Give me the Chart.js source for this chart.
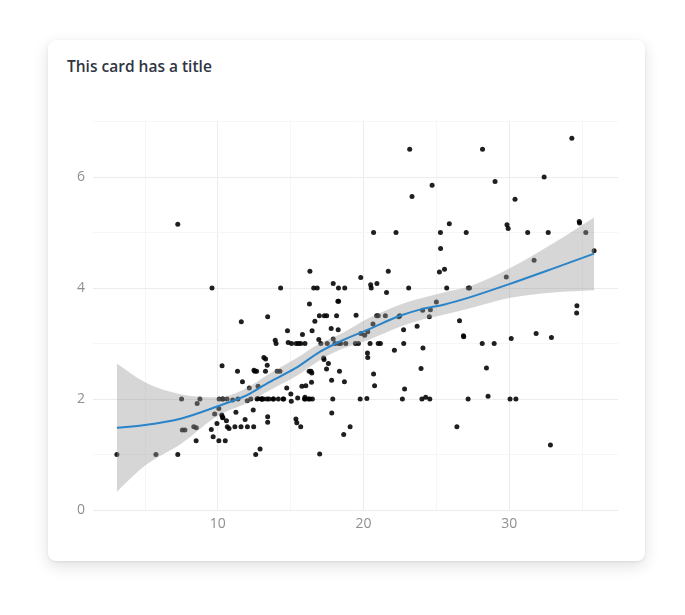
<!DOCTYPE html>
<html>
<head>
<meta charset="utf-8">
<script src="https://cdn.jsdelivr.net/npm/chart.js@4.4.1/dist/chart.umd.min.js"></script>
<style>
  html, body { margin: 0; padding: 0; background: #ffffff; }
  body { width: 685px; height: 615px; position: relative; font-family: "Open Sans", "Noto Sans", sans-serif; }
  .card {
    position: absolute; left: 48px; top: 40px; width: 597px; height: 521px;
    background: #fff; border-radius: 8px;
    box-shadow: 0 5px 16px rgba(0, 0, 0, 0.12), 0 1px 3px rgba(0, 0, 0, 0.07);
  }
  .card-title {
    position: absolute; left: 19px; top: 15px;
    font-size: 15.5px; font-weight: 600; color: #2f3542;
  }
  .chart-box { position: absolute; left: 12px; top: 64px; width: 562px; height: 441px; }
</style>
</head>
<body>
<div class="card">
  <div class="card-title">This card has a title</div>
  <div class="chart-box"><canvas id="chart"></canvas></div>
</div>
<script>
// total bill vs tip
const billX = [16.99, 10.34, 21.01, 23.68, 24.59, 25.29, 8.77, 26.88, 15.04, 14.78, 10.27, 35.26, 15.42, 18.43, 14.83, 21.58, 10.33, 16.29, 16.97, 20.65,
  17.92, 20.29, 15.77, 19.82, 17.81, 13.37, 12.69, 21.7, 19.65, 9.55, 18.35, 15.06, 20.69, 17.78, 24.06, 16.31, 16.93, 18.69, 31.27, 16.04,
  17.46, 13.94, 9.68, 30.4, 18.29, 22.23, 32.4, 28.55, 18.04, 12.54, 10.29, 34.81, 9.94, 25.56, 19.49, 26.41, 11.24, 20.29, 13.81, 11.02,
  18.29, 17.59, 20.08, 16.45, 3.07, 20.23, 15.01, 12.02, 17.07, 26.86, 25.28, 14.73, 10.51, 17.92, 27.2, 22.76, 17.29, 19.44, 16.66, 10.07,
  32.68, 15.98, 34.83, 13.03, 18.28, 24.71, 21.16, 28.97, 22.49, 5.75, 16.32, 22.75, 27.28, 12.03, 21.01, 12.46, 11.35, 15.38, 22.42, 20.92,
  15.36, 20.49, 25.21, 18.24, 14.31, 14.0, 7.25, 23.95, 25.71, 17.31, 29.93, 10.65, 12.43, 24.08, 11.69, 13.42, 14.26, 15.95, 12.48, 29.8,
  8.52, 14.52, 11.38, 22.82, 19.08, 20.27, 11.17, 12.26, 18.26, 8.51, 10.33, 14.15, 16.0, 13.16, 17.47, 34.3, 27.05, 16.43, 8.35, 18.64,
  11.87, 9.78, 7.51, 14.07, 13.13, 17.26, 24.55, 19.77, 29.85, 25.0, 13.39, 16.49, 21.5, 12.66, 16.21, 13.81, 17.51, 24.52, 20.76, 31.71,
  10.59, 10.63, 15.81, 7.25, 31.85, 16.82, 32.9, 17.89, 14.48, 9.6, 34.63, 34.65, 23.33, 23.17, 20.69, 20.9, 30.46, 18.15, 23.1, 15.69,
  19.81, 28.44, 15.48, 16.58, 7.56, 10.34, 13.0, 13.51, 18.71, 12.74, 13.0, 16.4, 20.53, 16.47, 26.59, 24.27, 12.76, 30.06, 25.89, 13.27,
  28.17, 12.9, 28.15, 11.59, 7.74, 30.14, 12.16, 13.42, 8.58, 15.98, 13.42, 16.27, 10.09, 20.45, 13.28, 22.12, 24.01, 15.69, 11.61, 10.77,
  15.53, 10.07, 12.6, 32.83, 35.83, 29.03, 27.18, 22.67, 17.82, 18.78];
const tipY = [1.01, 1.66, 3.5, 3.31, 3.61, 4.71, 2.0, 3.12, 1.96, 3.23, 1.71, 5.0, 1.57, 3.0, 3.02, 3.92, 1.67, 3.71, 3.5, 3.35,
  4.08, 2.75, 2.23, 3.18, 2.34, 2.0, 2.0, 4.3, 3.0, 1.45, 2.5, 3.0, 2.45, 3.27, 3.6, 2.0, 3.07, 2.31, 5.0, 2.24,
  2.54, 3.06, 1.32, 5.6, 3.0, 5.0, 6.0, 2.05, 3.0, 2.5, 2.6, 5.2, 1.56, 4.34, 3.51, 1.5, 1.76, 3.21, 2.0, 1.98,
  3.76, 2.64, 3.15, 2.47, 1.0, 2.01, 2.09, 1.97, 3.0, 3.14, 5.0, 2.2, 1.25, 3.08, 4.0, 3.0, 2.71, 3.0, 3.4, 1.83,
  5.0, 2.03, 5.17, 2.0, 4.0, 5.85, 3.0, 3.0, 3.5, 1.0, 4.3, 3.25, 4.0, 1.5, 3.0, 1.5, 2.5, 3.0, 3.48, 4.08,
  1.64, 4.06, 4.29, 3.76, 4.0, 3.0, 1.0, 2.55, 4.0, 3.5, 5.07, 1.5, 1.8, 2.92, 2.31, 1.68, 2.5, 2.0, 2.52, 4.2,
  1.48, 2.0, 2.0, 2.18, 1.5, 2.83, 1.5, 2.0, 3.25, 1.25, 2.0, 2.0, 2.0, 2.75, 3.5, 6.7, 5.0, 2.3, 1.5, 1.36,
  1.63, 1.73, 2.0, 2.5, 2.0, 2.74, 2.0, 2.0, 5.14, 3.75, 2.61, 2.0, 3.5, 2.5, 2.0, 2.0, 3.0, 3.48, 2.24, 4.5,
  1.61, 2.0, 3.16, 5.15, 3.18, 4.0, 3.11, 2.0, 2.0, 4.0, 3.55, 3.68, 5.65, 6.5, 5.0, 3.5, 2.0, 3.5, 4.0, 1.5,
  4.19, 2.56, 2.02, 4.0, 1.44, 2.0, 2.0, 2.0, 4.0, 2.01, 2.0, 2.5, 4.0, 3.23, 3.41, 2.03, 2.23, 2.0, 5.16, 2.5,
  6.5, 1.1, 3.0, 1.5, 1.44, 3.09, 2.2, 3.48, 1.92, 3.0, 1.58, 2.5, 2.0, 3.0, 2.72, 2.88, 2.0, 3.0, 3.39, 1.47,
  3.0, 1.25, 1.0, 1.17, 4.67, 5.92, 2.0, 2.0, 1.75, 3.0];

// smoothed fit and its confidence band
const fitX = [3.07, 5, 7.5, 10, 12, 13.5, 15.3, 17, 18.5, 20.3, 22.5, 24, 25.5, 27.5, 30, 33, 35.83];
const fitY = [1.48, 1.53, 1.65, 1.87, 2.07, 2.3, 2.55, 2.85, 3.05, 3.25, 3.5, 3.62, 3.7, 3.85, 4.07, 4.35, 4.62];
const bandHi = [2.64, 2.3, 2.08, 2.03, 2.2, 2.45, 2.72, 3.0, 3.18, 3.45, 3.7, 3.82, 3.92, 4.05, 4.35, 4.8, 5.27];
const bandLo = [0.33, 0.8, 1.2, 1.7, 1.93, 2.15, 2.4, 2.7, 2.9, 3.06, 3.3, 3.43, 3.52, 3.65, 3.82, 3.92, 3.96];

const xTicks = [5, 10, 15, 20, 25, 30, 35];
const yTicks = [0, 1, 2, 3, 4, 5, 6, 7];

const toPts = (xs, ys) => xs.map((x, i) => ({ x: x, y: ys[i] }));

const gridCol = (ctx, step) =>
  ctx.tick && ctx.tick.value % step === 0 ? "#ececec" : "#f6f6f6";

new Chart(document.getElementById("chart"), {
  type: "scatter",
  data: {
    datasets: [
      {
        type: "line",
        data: toPts(fitX, fitY),
        borderColor: "#2a84c9",
        borderWidth: 2,
        pointRadius: 0,
        tension: 0.4,
        cubicInterpolationMode: "monotone",
        fill: false,
      },
      {
        type: "line",
        data: toPts(fitX, bandHi),
        borderWidth: 0,
        borderColor: "rgba(0,0,0,0)",
        pointRadius: 0,
        cubicInterpolationMode: "monotone",
        fill: false,
      },
      {
        type: "line",
        data: toPts(fitX, bandLo),
        borderWidth: 0,
        borderColor: "rgba(0,0,0,0)",
        backgroundColor: "rgba(153,153,153,0.4)",
        pointRadius: 0,
        cubicInterpolationMode: "monotone",
        fill: "-1",
      },
      {
        data: toPts(billX, tipY),
        backgroundColor: "rgba(0,0,0,0.88)",
        borderWidth: 0,
        pointRadius: 2.5,
      },
    ],
  },
  options: {
    responsive: true,
    maintainAspectRatio: false,
    animation: false,
    layout: { padding: { top: 5, right: 2, left: 0, bottom: 0 } },
    plugins: { legend: { display: false }, tooltip: { enabled: false } },
    scales: {
      x: {
        type: "linear",
        min: 1.43,
        max: 37.47,
        afterBuildTicks: (s) => { s.ticks = xTicks.map((v) => ({ value: v })); },
        afterFit: (s) => { s.height = 35; },
        border: { display: false },
        grid: { color: (c) => gridCol(c, 10), drawTicks: false, lineWidth: 1 },
        ticks: {
          padding: 6,
          color: "#8f8f8f",
          font: { family: "Open Sans", size: 14 },
          maxRotation: 0,
          callback: (v) => (v % 10 === 0 ? v : ""),
        },
      },
      y: {
        min: 0,
        max: 7.02,
        afterBuildTicks: (s) => { s.ticks = yTicks.map((v) => ({ value: v })); },
        afterFit: (s) => { s.width = 33; },
        border: { display: false },
        grid: { color: (c) => gridCol(c, 2), drawTicks: false, lineWidth: 1 },
        ticks: {
          padding: 8,
          color: "#8f8f8f",
          font: { family: "Open Sans", size: 14 },
          callback: (v) => (v % 2 === 0 ? v : ""),
        },
      },
    },
  },
});
</script>
</body>
</html>
